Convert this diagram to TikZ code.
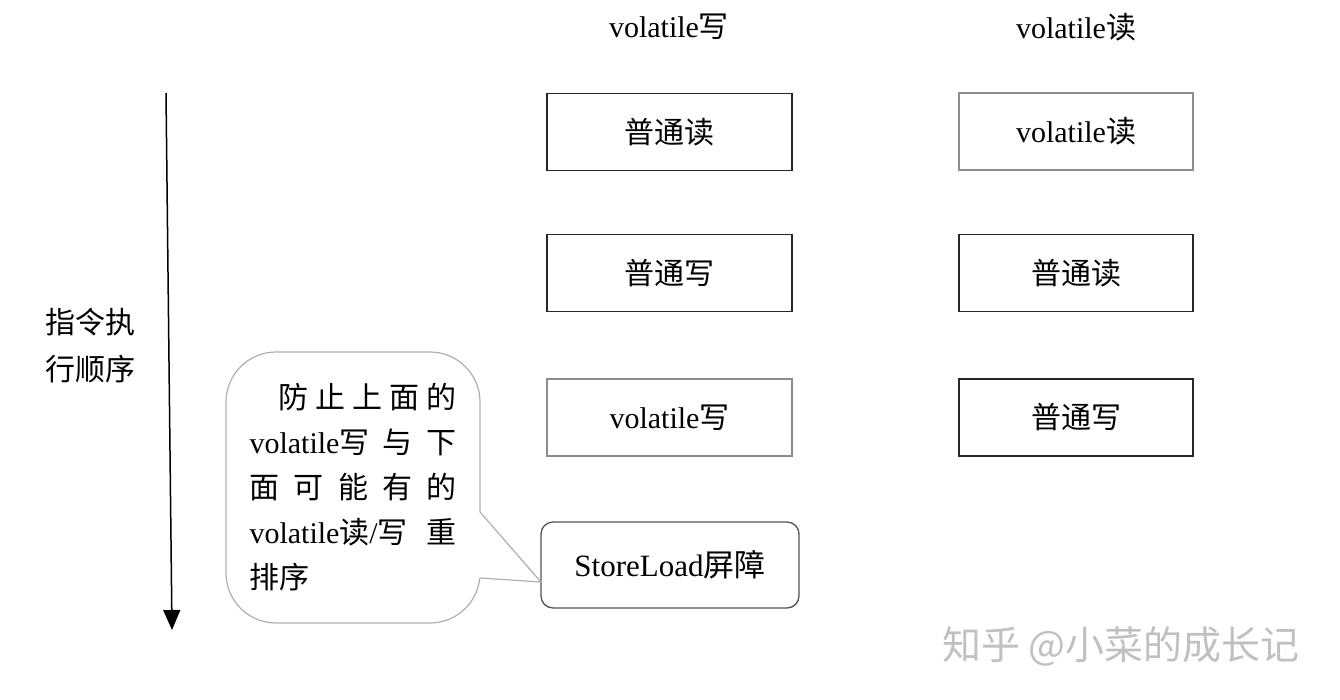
\documentclass[tikz,border=0pt]{standalone}
\usepackage{fontspec}
\setmainfont{Liberation Serif}
\newfontfamily\cjk{Noto Sans CJK SC}
\newcommand{\zh}[1]{{\cjk #1}}
\usetikzlibrary{arrows.meta}
\definecolor{boxdark}{RGB}{40,40,40}
\definecolor{boxlight}{RGB}{140,140,140}
\definecolor{notegray}{RGB}{175,175,175}
\definecolor{markgray}{RGB}{192,192,192}
\tikzset{
  opbox/.style={draw=boxdark, line width=1.3pt, minimum width=245pt, minimum height=77pt,
    inner sep=0pt, font=\fontsize{30}{36}\selectfont},
  opboxlight/.style={opbox, draw=boxlight},
  barrierbox/.style={opbox, draw=boxdark!80, rounded corners=12pt, minimum width=258pt,
    minimum height=86pt, font=\fontsize{31}{36}\selectfont},
  headtext/.style={font=\fontsize{30}{36}\selectfont, inner sep=0pt},
  note/.style={draw=notegray, line width=1.2pt, rounded corners=50pt, minimum width=254pt,
    minimum height=271pt, inner sep=0pt, text width=207pt, align=left,
    font=\fontsize{30}{45}\selectfont},
  flowarrow/.style={line width=1.5pt, -{Triangle[length=20pt,width=17pt]}}
}
\begin{document}
\begin{tikzpicture}[x=1pt,y=-1pt]
  \useasboundingbox (0,0) rectangle (1340,700);
  % Column heads
  \node[headtext] (hwrite) at (669,27) {volatile\zh{写}};
  \node[headtext] (hread) at (1076,27) {volatile\zh{读}};
  % Left column: volatile write
  \node[opbox] (w1) at (669.5,132) {\zh{普通读}};
  \node[opbox] (w2) at (669.5,273) {\zh{普通写}};
  \node[opboxlight] (w3) at (669.5,417.5) {volatile\zh{写}};
  \node[barrierbox] (barrier) at (670,565) {StoreLoad\zh{屏障}};
  % Right column: volatile read
  \node[opboxlight, minimum width=234pt] (r1) at (1076,131.5) {volatile\zh{读}};
  \node[opbox, minimum width=234pt] (r2) at (1076,273) {\zh{普通读}};
  \node[opbox, minimum width=234pt] (r3) at (1076,417.5) {\zh{普通写}};
  % Execution order
  \coordinate (arrtop) at (166,93);
  \coordinate (arrbot) at (172,630);
  \draw[flowarrow] (arrtop) -- (arrbot);
  \node[font=\fontsize{30}{47}\selectfont, align=center] (order) at (90,346)
    {\zh{指令执}\\\zh{行顺序}};
  % Callout for the barrier
  \node[note] (callout) at (353,487.5) {%
    \makebox[207pt][s]{\hspace{29pt}\zh{防}\hfill\zh{止}\hfill\zh{上}\hfill\zh{面}\hfill\zh{的}}\\
    \makebox[207pt][s]{volatile\zh{写}\hfill\zh{与}\hfill\zh{下}}\\
    \makebox[207pt][s]{\zh{面}\hfill\zh{可}\hfill\zh{能}\hfill\zh{有}\hfill\zh{的}}\\
    \makebox[207pt][s]{volatile\zh{读}/\zh{写}\hfill\zh{重}}\\
    \zh{排序}};
  \coordinate (tailtop) at (480,512);
  \coordinate (tailbot) at (480,578);
  \coordinate (tip) at (541,582);
  \fill[white] ([xshift=-2pt]tailtop) rectangle ([xshift=2pt]tailbot);
  \draw[draw=notegray, line width=1.2pt] (tailtop) -- (tip) -- (tailbot);
  % Watermark
  \node[text=markgray, font=\cjk\fontsize{39}{42}\selectfont] (mark) at (1121,646)
    {知乎 @小菜的成长记};
\end{tikzpicture}
\end{document}
